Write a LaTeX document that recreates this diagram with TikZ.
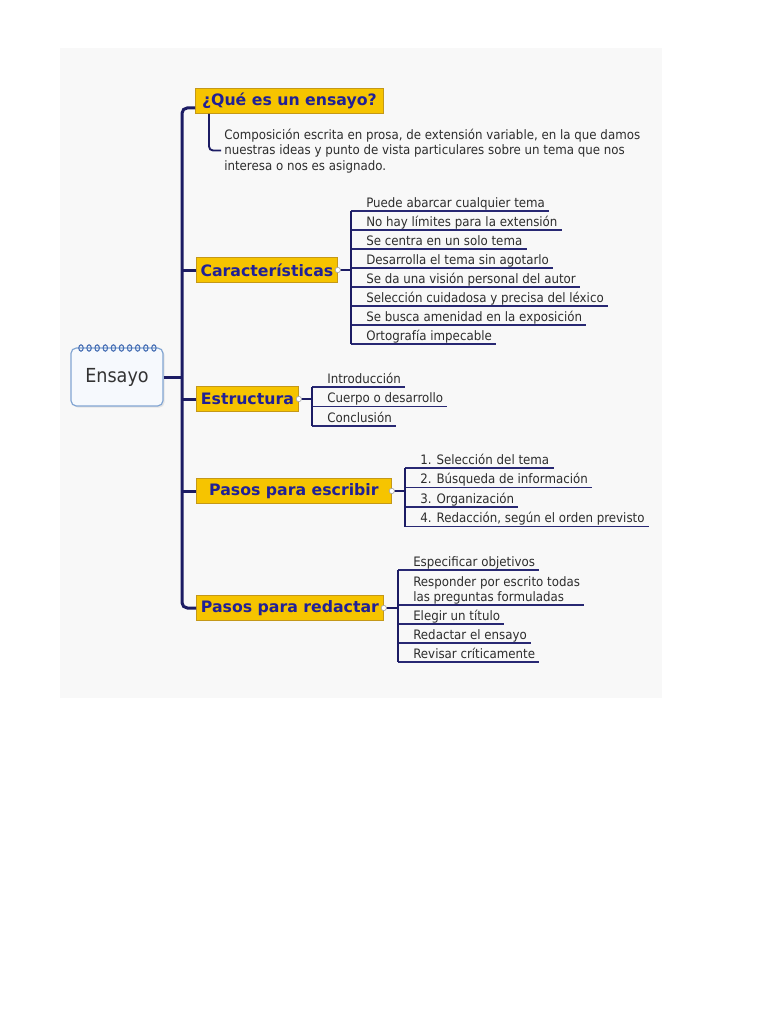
\documentclass[tikz,border=0pt]{standalone}
\usepackage{fontspec}
\setmainfont{DejaVu Sans}
\newfontfamily\bodyf[FakeStretch=0.91]{DejaVu Sans}
\newfontfamily\titlef{DejaVu Sans}
\usetikzlibrary{calc,shadows}
\definecolor{navy}{RGB}{28,28,100}
\definecolor{ttl}{RGB}{32,32,150}
\definecolor{gold}{RGB}{246,196,0}
\definecolor{goldb}{RGB}{196,152,24}
\definecolor{txt}{RGB}{45,45,45}
\definecolor{uln}{RGB}{40,40,115}
\definecolor{bgc}{RGB}{248,248,248}
\definecolor{ensb}{RGB}{130,165,210}
\definecolor{ensf}{RGB}{246,249,253}
\definecolor{ringc}{RGB}{70,110,180}
\tikzset{
 trunk/.style={draw=navy, line width=2.25pt},
 sub/.style={draw=navy, line width=1.4pt},
 uline/.style={draw=uln, line width=1.05pt},
 ttlbox/.style={fill=gold, draw=goldb, line width=0.6pt, minimum height=18.75pt, inner sep=0pt,
   font=\titlef\bfseries\fontsize{11.8pt}{14pt}\selectfont, text=ttl, anchor=west},
 childtxt/.style={inner sep=0pt, text depth=2.625pt, anchor=south west,
   font=\bodyf\fontsize{9.75pt}{11.25pt}\selectfont, text=txt, align=left},
 paratxt/.style={inner sep=0pt, anchor=base west,
   font=\bodyf\fontsize{9.75pt}{11.5pt}\selectfont, text=txt, align=left},
 dotc/.style={circle, fill=white, draw=gray!70, line width=0.5pt, inner sep=0pt, minimum size=4pt},
 ensbox/.style={draw=ensb, line width=0.9pt, fill=ensf, rounded corners=4pt,
   minimum width=69pt, minimum height=43.5pt, inner sep=0pt,
   font=\bodyf\fontsize{14.5pt}{16pt}\selectfont, text=black!80,
   drop shadow={shadow xshift=1.2pt, shadow yshift=-1.2pt, fill=gray!35}},
 ringline/.style={draw=ringc, line width=0.8pt},
}
\newcommand\mmkid[4]{\node[childtxt] (#1) at (#2,#3) {#4};
  \draw[uline] ($(#1.south west)+(-15,0)$) -- ($(#1.south east)+(4,0)$);}
\begin{document}
\begin{tikzpicture}[x=0.75pt,y=-0.75pt]
\useasboundingbox (0,0) rectangle (768,1024);
\fill[white] (0,0) rectangle (768,1024);
\fill[bgc] (60,48) rectangle (662,698);

% central node
\node[ensbox] (ens) at (117,377) {Ensayo};
\foreach \i in {0,...,9} \draw[ringline] (81+\i*8.1,348) ellipse (2.2 and 3.2);

% titles
\node[ttlbox, minimum width=141pt] (t1) at (195,101) {¿Qué es un ensayo?};
\node[ttlbox, minimum width=105.75pt] (t2) at (196,270) {Características};
\node[ttlbox, minimum width=76.5pt] (t3) at (196,399) {Estructura};
\node[ttlbox, minimum width=146.25pt] (t4) at (196,491) {Pasos para escribir};
\node[ttlbox, minimum width=140.25pt] (t5) at (196,608) {Pasos para redactar};

% trunk
\coordinate (tk) at (182,377);
\draw[trunk, rounded corners=4pt] ([yshift=4.5pt]t1.south west) -| (tk) |- (t5.west);
\draw[trunk] (tk |- t2.west) -- (t2.west);
\draw[trunk] (tk |- t3.west) -- (t3.west);
\draw[trunk] (tk |- t4.west) -- (t4.west);
\draw[trunk] (ens.east) -- (tk);

% definition
\node[paratxt] (p1) at (224,170) {Composición escrita en prosa, de extensión variable, en la que damos\\nuestras ideas y punto de vista particulares sobre un tema que nos\\interesa o nos es asignado.};
\coordinate (q1) at (221,150.5);
\draw[sub, rounded corners=3pt] ([xshift=10.5pt]t1.south west) |- (q1);

% Caracteristicas
\mmkid{c1}{366}{211}{Puede abarcar cualquier tema}
\mmkid{c2}{366}{230}{No hay límites para la extensión}
\mmkid{c3}{366}{249}{Se centra en un solo tema}
\mmkid{c4}{366}{268}{Desarrolla el tema sin agotarlo}
\mmkid{c5}{366}{287}{Se da una visión personal del autor}
\mmkid{c6}{366}{306}{Selección cuidadosa y precisa del léxico}
\mmkid{c7}{366}{325}{Se busca amenidad en la exposición}
\mmkid{c8}{366}{344}{Ortografía impecable}
\coordinate (v2) at ($(c1.south west)+(-15,0)$);
\draw[sub] (t2.east) -- (t2.east -| v2);
\draw[sub] (v2) -- (v2 |- c8.south);
\node[dotc] (d2) at (t2.east) {};

% Estructura
\mmkid{e1}{327}{387}{Introducción}
\mmkid{e2}{327}{406.5}{Cuerpo o desarrollo}
\mmkid{e3}{327}{426}{Conclusión}
\coordinate (v3) at ($(e1.south west)+(-15,0)$);
\draw[sub] (t3.east) -- (t3.east -| v3);
\draw[sub] (v3) -- (v3 |- e3.south);
\node[dotc] (d3) at (t3.east) {};

% Pasos para escribir
\mmkid{w1}{420}{468}{1. Selección del tema}
\mmkid{w2}{420}{487.5}{2. Búsqueda de información}
\mmkid{w3}{420}{507}{3. Organización}
\mmkid{w4}{420}{526.5}{4. Redacción, según el orden previsto}
\coordinate (v4) at ($(w1.south west)+(-15,0)$);
\draw[sub] (t4.east) -- (t4.east -| v4);
\draw[sub] (v4) -- (v4 |- w4.south);
\node[dotc] (d4) at (t4.east) {};

% Pasos para redactar
\mmkid{r1}{413}{570}{Especificar objetivos}
\mmkid{r2}{413}{605}{Responder por escrito todas\\las preguntas formuladas}
\mmkid{r3}{413}{624}{Elegir un título}
\mmkid{r4}{413}{643}{Redactar el ensayo}
\mmkid{r5}{413}{662}{Revisar críticamente}
\coordinate (v5) at ($(r1.south west)+(-15,0)$);
\draw[sub] (t5.east) -- (t5.east -| v5);
\draw[sub] (v5) -- (v5 |- r5.south);
\node[dotc] (d5) at (t5.east) {};
\end{tikzpicture}
\end{document}
